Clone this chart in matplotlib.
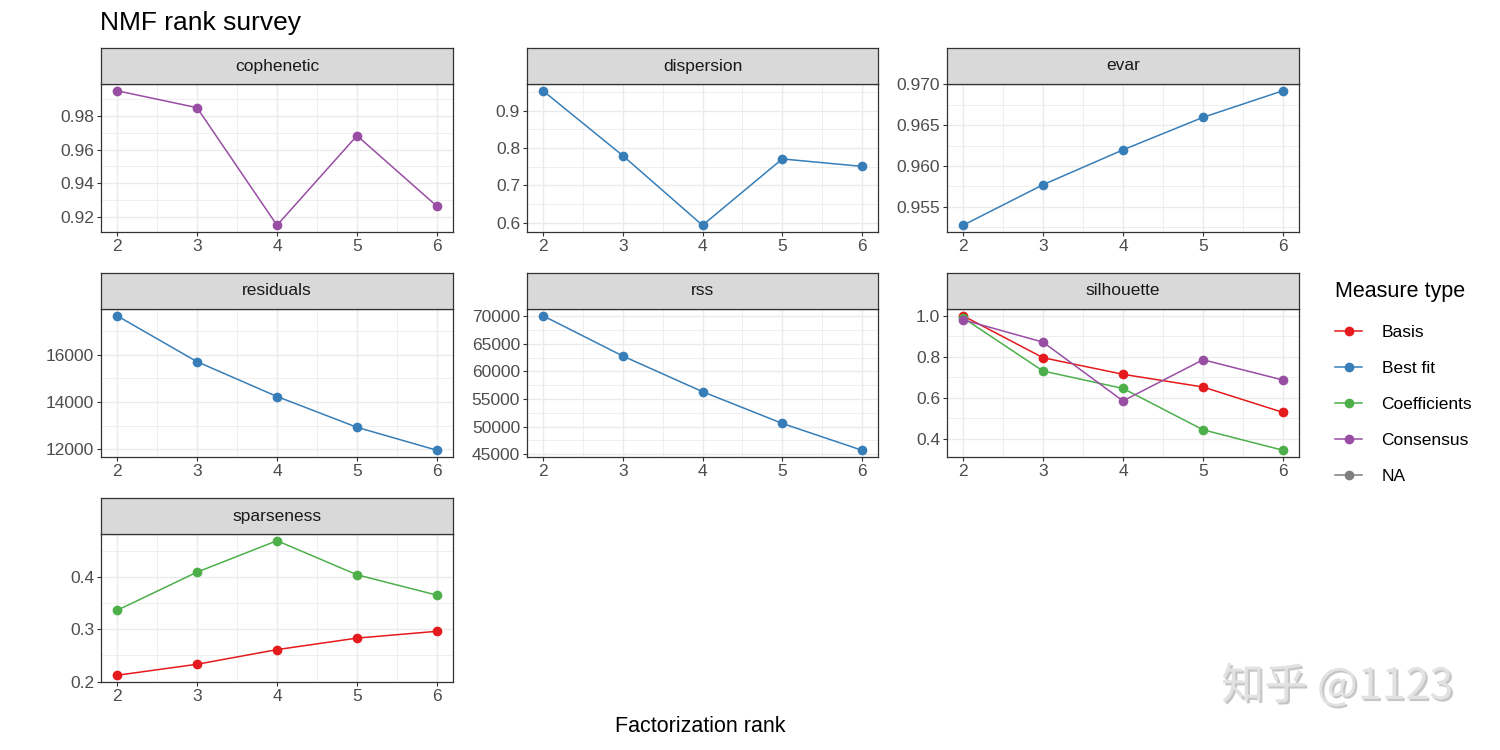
"""NMF rank survey: quality measures vs factorization rank, ggplot-style facets."""
import matplotlib
matplotlib.use("Agg")
import matplotlib.pyplot as plt
import matplotlib.patheffects as pe
from matplotlib.lines import Line2D
from matplotlib.ticker import FixedLocator, FormatStrFormatter

W, H = 1500, 750

RANKS = [2, 3, 4, 5, 6]

COPHENETIC = [0.9947, 0.9847, 0.9153, 0.9682, 0.9265]
DISPERSION = [0.954, 0.780, 0.593, 0.771, 0.751]
EVAR = [0.95276, 0.95771, 0.96197, 0.96594, 0.96919]
RESIDUALS = [17640, 15700, 14230, 12930, 11960]
RSS = [70100, 62800, 56330, 50570, 45700]
SIL_BASIS = [1.000, 0.795, 0.714, 0.652, 0.528]
SIL_COEF = [0.990, 0.730, 0.645, 0.443, 0.343]
SIL_CONS = [0.980, 0.871, 0.584, 0.785, 0.686]
SPARSE_BASIS = [0.212, 0.233, 0.261, 0.283, 0.296]
SPARSE_COEF = [0.336, 0.409, 0.469, 0.404, 0.365]

MEASURE_TYPES = ["Basis", "Best fit", "Coefficients", "Consensus", "NA"]
COLORS = {
    "Basis": "#E41A1C",
    "Best fit": "#377EB8",
    "Coefficients": "#4DAF4A",
    "Consensus": "#984EA3",
    "NA": "#7F7F7F",
}

# name, column, row, y breaks, label format, [(type, values), ...]
PANELS = [
    ("cophenetic", 0, 0, [0.92, 0.94, 0.96, 0.98], "%.2f", [("Consensus", COPHENETIC)]),
    ("dispersion", 1, 0, [0.6, 0.7, 0.8, 0.9], "%.1f", [("Best fit", DISPERSION)]),
    ("evar", 2, 0, [0.955, 0.960, 0.965, 0.970], "%.3f", [("Best fit", EVAR)]),
    ("residuals", 0, 1, [12000, 14000, 16000], "%d", [("Best fit", RESIDUALS)]),
    ("rss", 1, 1, [45000, 50000, 55000, 60000, 65000, 70000], "%d", [("Best fit", RSS)]),
    ("silhouette", 2, 1, [0.4, 0.6, 0.8, 1.0], "%.1f",
     [("Basis", SIL_BASIS), ("Coefficients", SIL_COEF), ("Consensus", SIL_CONS)]),
    ("sparseness", 0, 2, [0.2, 0.3, 0.4], "%.1f",
     [("Basis", SPARSE_BASIS), ("Coefficients", SPARSE_COEF)]),
]

COLS = [(101, 453), (527, 878), (947, 1299)]
ROWS = [(84, 232), (309, 457), (534, 682)]
STRIP_H = 36

BORDER = "#333333"
GRID = "#EBEBEB"
TICK_TXT = "#4D4D4D"

plt.rcParams.update({
    "font.family": ["Liberation Sans", "DejaVu Sans"],
})


def box(x0, y0, x1, y1):
    return [x0 / W, 1 - y1 / H, (x1 - x0) / W, (y1 - y0) / H]


def midpoints(vals):
    return [(a + b) / 2 for a, b in zip(vals[:-1], vals[1:])]


fig = plt.figure(figsize=(W / 100, H / 100), dpi=100)

for name, c, r, yticks, fmt, series in PANELS:
    x0, x1 = COLS[c]
    y0, y1 = ROWS[r]
    ax = fig.add_axes(box(x0, y0, x1, y1))
    for mtype, vals in series:
        ax.plot(RANKS, vals, color=COLORS[mtype], lw=1.1, marker="o",
                markersize=7, markeredgewidth=0, zorder=3)
    ax.margins(0.05)
    ax.xaxis.set_major_locator(FixedLocator(RANKS))
    ax.xaxis.set_minor_locator(FixedLocator(midpoints(RANKS)))
    ax.yaxis.set_major_locator(FixedLocator(yticks))
    lo, hi = ax.get_ylim()
    step = yticks[1] - yticks[0]
    ext = [yticks[0] - step] + list(yticks) + [yticks[-1] + step]
    ax.yaxis.set_minor_locator(FixedLocator([m for m in midpoints(ext) if lo <= m <= hi]))
    ax.set_ylim(lo, hi)
    ax.yaxis.set_major_formatter(FormatStrFormatter(fmt))
    ax.grid(which="major", color=GRID, lw=1.0, zorder=0)
    ax.grid(which="minor", color=GRID, lw=0.55, zorder=0)
    ax.set_axisbelow(True)
    ax.tick_params(which="major", length=3, width=0.8, color=BORDER, labelsize=12.5,
                   labelcolor=TICK_TXT, pad=2)
    ax.tick_params(which="minor", length=0)
    for sp in ax.spines.values():
        sp.set_color(BORDER)
        sp.set_linewidth(0.9)

    sax = fig.add_axes(box(x0, y0 - STRIP_H, x1, y0))
    sax.set_facecolor("#D9D9D9")
    sax.set_xticks([])
    sax.set_yticks([])
    for sp in sax.spines.values():
        sp.set_color(BORDER)
        sp.set_linewidth(0.9)
    sax.text(0.5, 0.5, name, ha="center", va="center", fontsize=12.5, color="#1A1A1A",
             transform=sax.transAxes)

fig.text(100 / W, 1 - 23 / H, "NMF rank survey", fontsize=19, ha="left", va="center",
         color="#000000")
fig.text(700 / W, 1 - 726 / H, "Factorization rank", fontsize=15.5, ha="center",
         va="center", color="#000000")

handles = [Line2D([0], [0], color=COLORS[m], lw=1.1, marker="o", markersize=7,
                  markeredgewidth=0) for m in MEASURE_TYPES]
leg = fig.legend(handles, MEASURE_TYPES, title="Measure type", loc="upper left",
                 bbox_to_anchor=(1319 / W, 1 - 265 / H), frameon=False, fontsize=12.5,
                 title_fontsize=15.5, handlelength=1.6, handletextpad=1.1,
                 labelspacing=1.2, alignment="left")
leg._legend_box.sep = 17

fig.text(1337 / W, 1 - 687 / H, "知乎 @1123", fontsize=31, ha="center", va="center",
         color="#E2E2E2", family=["Noto Sans CJK SC", "DejaVu Sans"],
         path_effects=[pe.SimplePatchShadow(offset=(1.5, -1.5), shadow_rgbFace="#A0A0A0",
                                            alpha=0.6), pe.Normal()])

fig.savefig("out.png", dpi=100)
